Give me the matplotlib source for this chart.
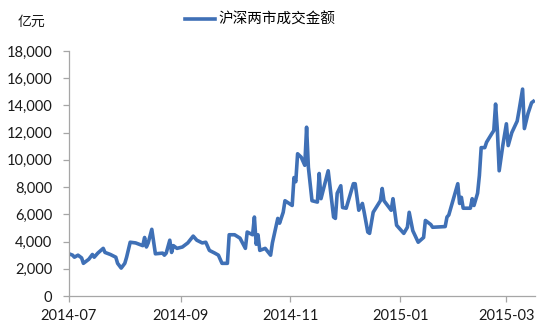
import matplotlib
matplotlib.use("Agg")
import matplotlib.pyplot as plt
import matplotlib.dates as mdates
import matplotlib.ticker as mticker
from datetime import datetime, timedelta

# daily turnover, 亿元
dates = [
    "2014-07-01", "2014-07-03", "2014-07-04", "2014-07-06", "2014-07-08", "2014-07-09",
    "2014-07-12", "2014-07-14", "2014-07-15", "2014-07-17", "2014-07-20", "2014-07-21",
    "2014-07-24", "2014-07-27", "2014-07-28", "2014-07-30", "2014-08-01", "2014-08-02",
    "2014-08-04", "2014-08-07", "2014-08-11", "2014-08-12", "2014-08-13", "2014-08-14",
    "2014-08-16", "2014-08-18", "2014-08-22", "2014-08-23", "2014-08-24", "2014-08-26",
    "2014-08-27", "2014-08-28", "2014-08-30", "2014-09-02", "2014-09-05", "2014-09-08",
    "2014-09-10", "2014-09-13", "2014-09-15", "2014-09-17", "2014-09-20", "2014-09-22",
    "2014-09-24", "2014-09-27", "2014-09-28", "2014-10-01", "2014-10-04", "2014-10-07",
    "2014-10-08", "2014-10-11", "2014-10-12", "2014-10-13", "2014-10-14", "2014-10-15",
    "2014-10-18", "2014-10-21", "2014-10-22", "2014-10-25", "2014-10-26", "2014-10-28",
    "2014-10-29", "2014-11-02", "2014-11-03", "2014-11-04", "2014-11-05", "2014-11-07",
    "2014-11-09", "2014-11-10", "2014-11-11", "2014-11-13", "2014-11-16", "2014-11-17",
    "2014-11-18", "2014-11-22", "2014-11-25", "2014-11-26", "2014-11-27", "2014-11-29",
    "2014-11-30", "2014-12-02", "2014-12-06", "2014-12-07", "2014-12-09", "2014-12-11",
    "2014-12-12", "2014-12-14", "2014-12-15", "2014-12-17", "2014-12-21", "2014-12-22",
    "2014-12-23", "2014-12-25", "2014-12-27", "2014-12-28", "2014-12-30", "2015-01-03",
    "2015-01-05", "2015-01-06", "2015-01-08", "2015-01-11", "2015-01-14", "2015-01-15",
    "2015-01-18", "2015-01-19", "2015-01-26", "2015-01-27", "2015-01-28", "2015-02-02",
    "2015-02-03", "2015-02-04", "2015-02-05", "2015-02-09", "2015-02-10", "2015-02-11",
    "2015-02-13", "2015-02-14", "2015-02-15", "2015-02-17", "2015-02-18", "2015-02-21",
    "2015-02-22", "2015-02-23", "2015-02-24", "2015-02-25", "2015-02-27", "2015-03-01",
    "2015-03-02", "2015-03-04", "2015-03-07", "2015-03-08", "2015-03-10", "2015-03-11",
    "2015-03-13", "2015-03-15", "2015-03-16",
]
turnover = [
    3100, 3000, 2850, 3000, 2800, 2400,
    2700, 3050, 2850, 3150, 3500, 3200,
    3050, 2850, 2400, 2050, 2400, 2850,
    3950, 3900, 3700, 4300, 3600, 3900,
    4900, 3100, 3150, 3000, 3150, 4100,
    3200, 3700, 3500, 3600, 3900, 4400,
    4100, 3900, 3950, 3350, 3150, 3000,
    2400, 2400, 4500, 4500, 4250, 3500,
    4700, 4500, 5800, 3800, 4500, 3350,
    3500, 3000, 3900, 5700, 5350, 6150,
    7000, 6650, 8700, 8400, 10450, 10200,
    9600, 12400, 9450, 7000, 6900, 9000,
    7150, 9200, 5800, 5700, 7550, 8100,
    6500, 6450, 8250, 8250, 6300, 6800,
    6150, 4700, 4600, 6150, 7000, 7900,
    7000, 6650, 6300, 7150, 5200, 4600,
    5050, 6150, 4800, 3950, 4300, 5550,
    5250, 5050, 5100, 5800, 5950, 8250,
    6800, 7250, 6450, 6450, 7150, 6650,
    7550, 8850, 10900, 10900, 11300, 11950,
    12150, 14100, 12150, 9200, 11050, 12650,
    11050, 12000, 12850, 13600, 15200, 12300,
    13400, 14200, 14300,
]
tick_dates = ["2014-07-01", "2014-09-01", "2014-11-01", "2015-01-01", "2015-03-01"]
y_ticks = list(range(0, 18001, 2000))

x = [datetime.strptime(d, "%Y-%m-%d") for d in dates]

plt.rcParams['font.family'] = ['Lato', 'DejaVu Sans']
cjk = ['Noto Sans CJK SC', 'DejaVu Sans']

fig = plt.figure(figsize=(5.5, 3.27), dpi=100)
ax = fig.add_axes([69/550, 31/327, 466/550, 245/327])

line, = ax.plot(x, turnover, color='#3F70B6', lw=2.6, solid_joinstyle='round')

start = datetime(2014, 7, 1)
ax.set_xlim(start, start + timedelta(days=258.9))
ax.set_ylim(0, 18000)

ax.set_xticks([datetime.strptime(d, "%Y-%m-%d") for d in tick_dates])
ax.xaxis.set_major_formatter(mdates.DateFormatter('%Y-%m'))
ax.set_yticks(y_ticks)
ax.yaxis.set_major_formatter(mticker.FuncFormatter(lambda v, p: f"{int(v):,}"))

for s in ['top', 'right']:
    ax.spines[s].set_visible(False)
for s in ['left', 'bottom']:
    ax.spines[s].set_color('#A6A6A6')
    ax.spines[s].set_linewidth(0.9)
ax.tick_params(axis='both', colors='#A6A6A6', length=4, width=0.9, labelsize=10.5,
               labelcolor='#1a1a1a')
ax.tick_params(axis='y', pad=8)
ax.tick_params(axis='x', pad=5)

# unit label and legend
fig.text(31/550, 1 - 22/327, '亿元', family=cjk, fontsize=10, ha='center', va='center',
         color='#1a1a1a')
fig.legend([line], ['沪深两市成交金额'], loc='center', bbox_to_anchor=(260/550, 1 - 20/327),
           frameon=False, handlelength=2.1, handletextpad=0.2,
           prop={'family': cjk, 'size': 10.5})

plt.savefig('out.png', dpi=100)
